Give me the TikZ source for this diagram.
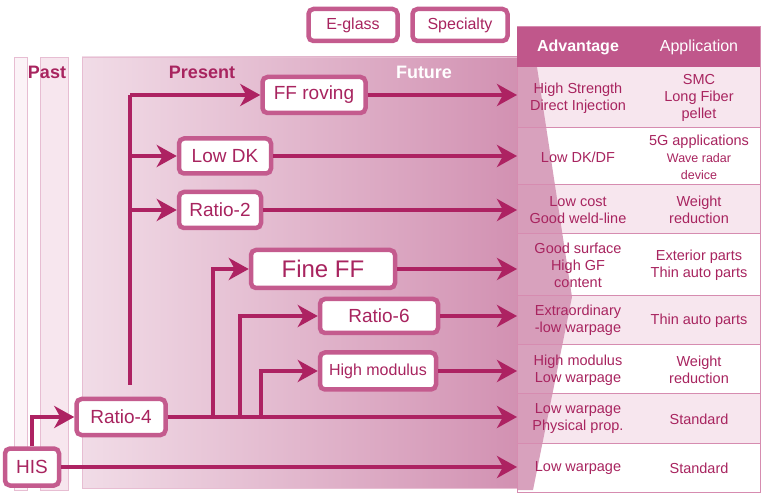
\documentclass[tikz,border=0pt]{standalone}
\usepackage{fontspec}
\setmainfont{Liberation Sans}
\usetikzlibrary{arrows.meta}
\definecolor{ln}{HTML}{AD2262}
\definecolor{bd}{HTML}{C45B8E}
\definecolor{tx}{HTML}{A8245F}
\definecolor{hd}{HTML}{C0578B}
\definecolor{lp}{HTML}{F7E6EE}
\definecolor{gl}{HTML}{F1DCE7}
\definecolor{gr}{HTML}{D291B2}
\begin{document}
\begin{tikzpicture}[x=1pt,y=-1pt,
 box/.style={draw=bd,line width=4.5pt,rounded corners=5pt,fill=white,text=tx,inner sep=0pt,font=\fontsize{19}{21}\selectfont},
 arr/.style={draw=ln,line width=4.5pt,-{Stealth[length=20pt,width=22pt,inset=6pt]}},
 seg/.style={draw=ln,line width=4.5pt},
 cell/.style={text=tx,align=center,font=\fontsize{14.5}{17}\selectfont},
 lab/.style={font=\bfseries\fontsize{18}{20}\selectfont}]
\useasboundingbox (0,0) rectangle (764,497);
% background strips
\fill[lp!50,draw=bd!40] (14,57) rectangle (27,490);
\fill[lp,draw=bd!40] (40,57) rectangle (68,490);
\shade[left color=gl,right color=gr,draw=bd!40] (82,57) rectangle (517,488);
\node[lab,text=tx] at (47,72) {Past};
\node[lab,text=tx] at (202,72) {Present};
\node[lab,text=white] at (424,72) {Future};
% table
\foreach \a/\b/\c in {67/128/lp,128/185/white,185/234/lp,234/296/white,296/345/lp,345/394/white,394/443/lp,443/492/white}
  \fill[\c] (517,\a) rectangle (760,\b);
\fill[gr,opacity=0.85] (517,67) -- (537,67) -- (572,297) -- (533,490) -- (517,490) -- cycle;
\foreach \a in {128,185,234,296,345,394,443}
  \draw[bd!70,line width=1pt] (517,\a) -- (760,\a);
\draw[bd!70,line width=1pt] (517,27) rectangle (760,492);
\fill[hd] (517,27) rectangle (760,67);
\node[text=white,font=\bfseries\fontsize{16}{18}\selectfont] at (578,47) {Advantage};
\node[text=white,font=\fontsize{16}{18}\selectfont] at (699,47) {Application};
\node[cell] at (578,98) {High Strength\\Direct Injection};
\node[cell] at (699,98) {SMC\\Long Fiber\\pellet};
\node[cell] at (578,157) {Low DK/DF};
\node[cell] at (699,157) {5G applications\\{\fontsize{12.5}{15}\selectfont Wave radar}\\{\fontsize{12.5}{15}\selectfont device}};
\node[cell] at (578,210) {Low cost\\Good weld-line};
\node[cell] at (699,210) {Weight\\reduction};
\node[cell] at (578,265) {Good surface\\High GF\\content};
\node[cell] at (699,265) {Exterior parts\\Thin auto parts};
\node[cell] at (578,320) {Extraordinary\\-low warpage};
\node[cell] at (699,321) {Thin auto parts};
\node[cell] at (578,370) {High modulus\\Low warpage};
\node[cell] at (699,370) {Weight\\reduction};
\node[cell] at (578,419) {Low warpage\\Physical prop.};
\node[cell] at (699,419) {Standard};
\node[cell] at (578,468) {Low warpage};
\node[cell] at (699,468) {Standard};
% top boxes
\node[box,minimum width=89pt,minimum height=32pt,font=\fontsize{16}{18}\selectfont] (eg) at (353,25) {E-glass};
\node[box,minimum width=95pt,minimum height=32pt,font=\fontsize{16}{18}\selectfont] (sp) at (460,25) {Specialty};
% nodes
\node[box,minimum width=103pt,minimum height=36pt] (ff) at (314,95) {FF roving};
\node[box,minimum width=92pt,minimum height=35pt] (dk) at (225,156) {Low DK};
\node[box,minimum width=82pt,minimum height=36pt] (r2) at (220,210) {Ratio-2};
\node[box,minimum width=144pt,minimum height=38pt,font=\fontsize{24}{26}\selectfont] (fine) at (323,269) {Fine FF};
\node[box,minimum width=118pt,minimum height=34pt] (r6) at (379,316) {Ratio-6};
\node[box,minimum width=116pt,minimum height=37pt,font=\fontsize{16}{18}\selectfont] (hm) at (378,371) {High modulus};
\node[box,minimum width=89pt,minimum height=36pt] (r4) at (121,417) {Ratio-4};
\node[box,minimum width=54pt,minimum height=37pt] (his) at (32,467) {HIS};
% end coordinates
\foreach \n/\y in {eff/95,edk/156,er2/210,efine/269,er6/316,ehm/371,er4/417,ehis/467}
  \coordinate (\n) at (517,\y);
\coordinate (tb) at (130,385);
\coordinate (tt) at (130,95);
\coordinate (a1) at (213,417);
\coordinate (a2) at (240,417);
\coordinate (a3) at (261,417);
% connectors
\draw[seg] (tb) -- (tt);
\draw[arr] (tt) -- (ff.west);
\draw[arr] (130,156) -- (dk.west);
\draw[arr] (130,210) -- (r2.west);
\draw[arr] (a1) |- (fine.west);
\draw[arr] (a2) |- (r6.west);
\draw[arr] (a3) |- (hm.west);
\draw[arr] (his.north) |- (r4.west);
\draw[arr] (ff.east) -- (eff);
\draw[arr] (dk.east) -- (edk);
\draw[arr] (r2.east) -- (er2);
\draw[arr] (fine.east) -- (efine);
\draw[arr] (r6.east) -- (er6);
\draw[arr] (hm.east) -- (ehm);
\draw[arr] (r4.east) -- (er4);
\draw[arr] (his.east) -- (ehis);
\end{tikzpicture}
\end{document}
